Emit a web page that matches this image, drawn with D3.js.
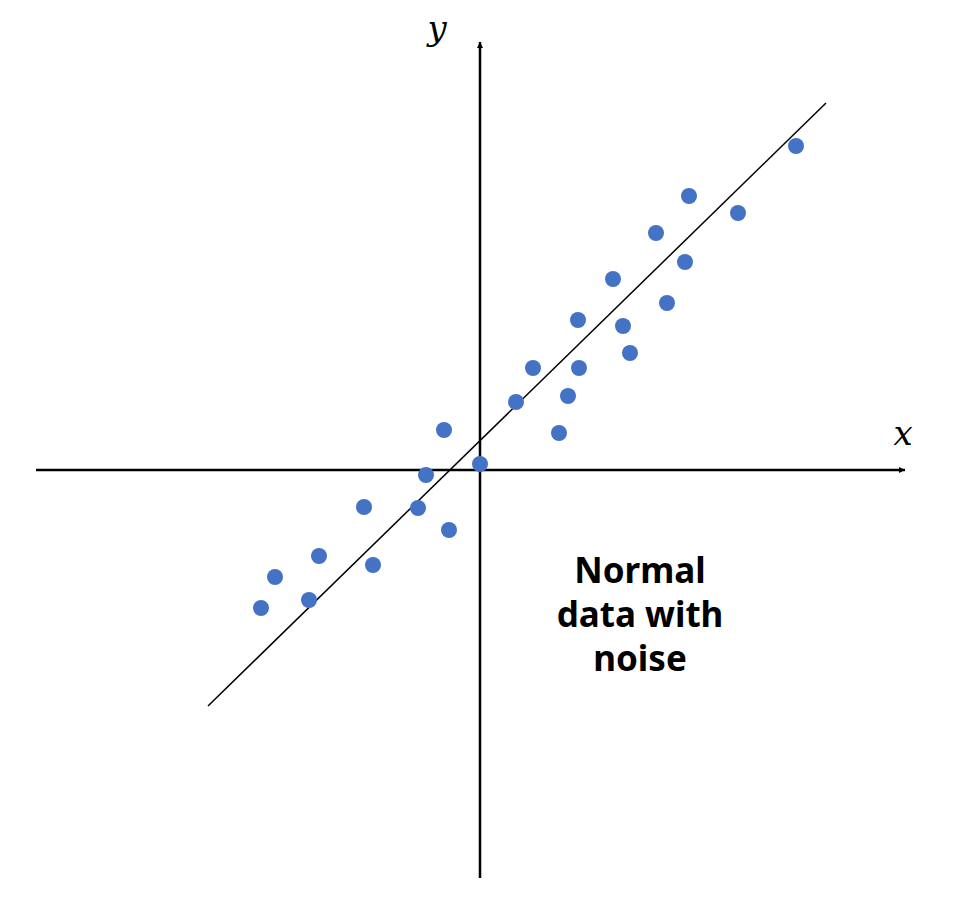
<!DOCTYPE html>
<html><head><meta charset="utf-8">
<script src="https://cdn.jsdelivr.net/npm/d3@7"></script>
<style>body{margin:0;background:#fff}</style>
</head><body>
<script>
// data points (x, y) in chart units
var xs = [31.6,20.9,25.8,17.6,20.5,13.3,18.7,9.8,14.3,15.0,5.3,9.9,8.8,3.6,7.9,-3.6,0,-5.4,-11.6,-6.2,-3.1,-16.1,-10.7,-20.5,-17.1,-21.9];
var ys = [32.4,27.4,25.7,23.7,20.8,19.1,16.7,15.0,14.4,11.7,10.2,10.2,7.4,6.8,3.7,4.0,0.6,-0.5,-3.7,-3.8,-6.0,-8.6,-9.5,-10.7,-13.0,-13.8];
var fitLine = [[-27.2,-23.6],[34.6,36.7]];
var labelLines = ["Normal", "data with", "noise"];

var width = 958, height = 908;
var svg = d3.select("body").append("svg").attr("width", width).attr("height", height);

var x = d3.scaleLinear().domain([-44.4, 42.5]).range([36, 905]);
var y = d3.scaleLinear().domain([-40.8, 42.8]).range([878, 42]);

svg.append("defs").append("marker")
    .attr("id", "arr").attr("viewBox", "0 -5 10 10")
    .attr("refX", 10).attr("refY", 0)
    .attr("markerWidth", 6).attr("markerHeight", 6)
    .attr("markerUnits", "userSpaceOnUse")
    .attr("orient", "auto")
    .append("path").attr("d", "M0,-5L10,0L0,5Z").attr("fill", "#000");

svg.append("line")
    .attr("x1", x(-44.4)).attr("y1", y(0)).attr("x2", x(42.5)).attr("y2", y(0))
    .attr("stroke", "#000").attr("stroke-width", 2.5)
    .attr("marker-end", "url(#arr)");
svg.append("line")
    .attr("x1", x(0)).attr("y1", y(-40.8)).attr("x2", x(0)).attr("y2", y(42.8))
    .attr("stroke", "#000").attr("stroke-width", 2.5)
    .attr("marker-end", "url(#arr)");

svg.append("line")
    .attr("x1", x(fitLine[0][0])).attr("y1", y(fitLine[0][1]))
    .attr("x2", x(fitLine[1][0])).attr("y2", y(fitLine[1][1]))
    .attr("stroke", "#000").attr("stroke-width", 1.5);

svg.append("g").selectAll("circle")
    .data(xs.map((v, i) => [v, ys[i]]))
    .enter().append("circle")
    .attr("cx", d => x(d[0])).attr("cy", d => y(d[1]))
    .attr("r", 8).attr("fill", "#4472C4");

svg.append("text").attr("x", 437).attr("y", 40)
    .attr("text-anchor", "middle")
    .attr("font-family", "DejaVu Serif").attr("font-style", "italic")
    .attr("font-size", 34).text("y");
svg.append("text").attr("x", 903).attr("y", 445)
    .attr("text-anchor", "middle")
    .attr("font-family", "DejaVu Serif").attr("font-style", "italic")
    .attr("font-size", 34).text("x");

svg.append("g").selectAll("text")
    .data(labelLines).enter().append("text")
    .attr("x", 640).attr("y", (d, i) => 583 + i * 44)
    .attr("text-anchor", "middle")
    .attr("font-family", "Noto Sans").attr("font-weight", "bold")
    .attr("font-size", 35).text(d => d);
</script>
</body></html>
